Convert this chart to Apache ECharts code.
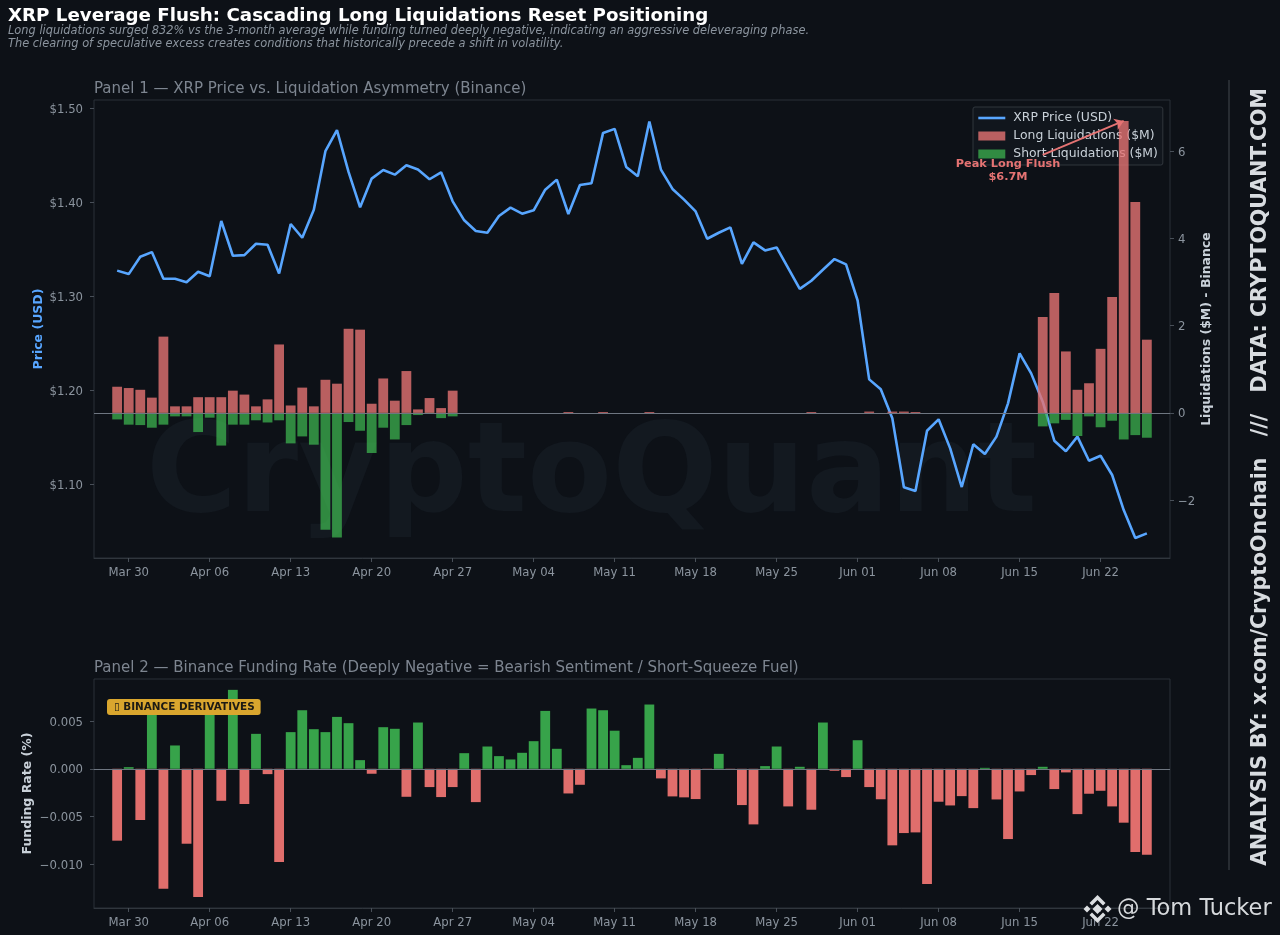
<!DOCTYPE html>
<html><head><meta charset="utf-8">
<style>html,body{margin:0;padding:0;background:#0d1117}#c{width:1280px;height:935px}</style>
<script src="https://cdn.jsdelivr.net/npm/echarts@6/dist/echarts.min.js"></script>
</head><body><div id="c"></div>
<script>
const categories = ['Mar 27','Mar 28','Mar 29','Mar 30','Mar 31',
'Apr 01','Apr 02','Apr 03','Apr 04','Apr 05','Apr 06','Apr 07','Apr 08','Apr 09','Apr 10','Apr 11','Apr 12','Apr 13','Apr 14','Apr 15','Apr 16','Apr 17','Apr 18','Apr 19','Apr 20','Apr 21','Apr 22','Apr 23','Apr 24','Apr 25','Apr 26','Apr 27','Apr 28','Apr 29','Apr 30',
'May 01','May 02','May 03','May 04','May 05','May 06','May 07','May 08','May 09','May 10','May 11','May 12','May 13','May 14','May 15','May 16','May 17','May 18','May 19','May 20','May 21','May 22','May 23','May 24','May 25','May 26','May 27','May 28','May 29','May 30','May 31',
'Jun 01','Jun 02','Jun 03','Jun 04','Jun 05','Jun 06','Jun 07','Jun 08','Jun 09','Jun 10','Jun 11','Jun 12','Jun 13','Jun 14','Jun 15','Jun 16','Jun 17','Jun 18','Jun 19','Jun 20','Jun 21','Jun 22','Jun 23','Jun 24','Jun 25','Jun 26','Jun 27','Jun 28'];
const tickLabels = ['Mar 30','Apr 06','Apr 13','Apr 20','Apr 27','May 04','May 11','May 18','May 25','Jun 01','Jun 08','Jun 15','Jun 22'];
const priceTicks = [1.1,1.2,1.3,1.4,1.5];
const liqTicks = [-2,0,2,4,6];
const fundingTicks = [-0.01,-0.005,0,0.005];

const price = [1.327,1.3233,1.3417,1.3467,1.3183,1.3183,1.3147,1.3258,1.3211,1.3798,1.3428,1.3435,1.3556,1.3545,1.324,1.3766,1.362,1.3918,1.454,1.4764,1.432,1.3943,1.4249,1.4341,1.4291,1.4391,1.4345,1.4242,1.4316,1.4007,1.3805,1.3691,1.3673,1.3851,1.394,1.3876,1.3911,1.4131,1.4238,1.3872,1.4181,1.4199,1.4735,1.4778,1.4373,1.4274,1.4856,1.4345,1.4139,1.4025,1.39,1.3609,1.3673,1.373,1.3343,1.357,1.3485,1.3517,1.3297,1.3076,1.3162,1.3279,1.3393,1.3336,1.2952,1.2113,1.2007,1.1699,1.0965,1.0926,1.1567,1.1688,1.1379,1.0968,1.1422,1.1319,1.1504,1.1858,1.239,1.2177,1.1876,1.1461,1.1348,1.1504,1.1248,1.1301,1.1096,1.0723,1.0426,1.0475];
const longLiq = [0.60,0.57,0.53,0.35,1.75,0.15,0.15,0.36,0.36,0.36,0.51,0.42,0.15,0.31,1.57,0.17,0.58,0.15,0.76,0.67,1.93,1.91,0.21,0.79,0.28,0.96,0.08,0.34,0.11,0.51,
0,0,0,0,0,0,0,0,0,0.02,0,0,0.02,0,0,0,0.02,0,0,0,0,0,0,0,0,0,0,0,0,0,0.02,0,0,0,0,0.03,0,0.03,0.03,0.02,0,0,0,0,0,0,0,0,0,0,
2.20,2.75,1.41,0.53,0.68,1.47,2.66,6.70,4.84,1.68];
const shortLiq = [-0.15,-0.27,-0.28,-0.34,-0.27,-0.08,-0.08,-0.44,-0.11,-0.75,-0.27,-0.27,-0.17,-0.22,-0.17,-0.70,-0.54,-0.73,-2.68,-2.86,-0.21,-0.41,-0.92,-0.34,-0.61,-0.28,-0.05,-0.01,-0.12,-0.08,
0,0,0,0,0,0,0,0,0,0,0,0,0,0,0,0,0,0,0,0,0,0,0,0,0,0,0,0,0,0,0,0,0,0,0,0,0,0,0,0,0,0,0,0,0,0,0,0,0,0,
-0.31,-0.24,-0.16,-0.53,-0.08,-0.33,-0.18,-0.61,-0.51,-0.57];
const funding = [-7.55,0.17,-5.38,6.6,-12.6,2.45,-7.87,-13.46,6.2,-3.36,8.29,-3.7,3.67,-0.56,-9.79,3.85,6.15,4.16,3.85,5.45,4.79,0.91,-0.52,4.37,4.2,-2.94,4.86,-1.92,-2.97,-1.92,1.64,-3.5,2.34,1.33,0.98,1.68,2.9,6.08,2.1,-2.59,-1.68,6.33,6.15,4.0,0.38,1.15,6.75,-1.01,-2.9,-3.0,-3.18,-0.1,1.57,-0.1,-3.81,-5.84,0.28,2.34,-3.95,0.21,-4.3,4.86,-0.21,-0.87,3.0,-1.92,-3.2,-8.04,-6.75,-6.68,-12.1,-3.46,-3.85,-2.87,-4.13,0.1,-3.22,-7.38,-2.38,-0.66,0.21,-2.13,-0.38,-4.76,-2.62,-2.31,-3.95,-5.66,-8.74,-9.02];

const FONT = '"DejaVu Sans"';
const pad = a => [null, null, ...a, null, null];
const isTick = (i, v) => tickLabels.includes(v);
const minus = s => String(s).replace('-', '\u2212');
const axisC = '#30363d', txtC = '#8b949e', LBL = 11.7, NAME = 12.5;
const tickRich = {t: {color: txtC, fontSize: LBL, fontFamily: FONT, padding: [3, 0, 0, 0]}};

const xAxisBase = g => ({
  type: 'category', gridIndex: g, data: categories, boundaryGap: false,
  axisLine: {onZero: false, lineStyle: {color: axisC}},
  axisTick: {show: true, interval: isTick, length: 4, lineStyle: {color: '#484f58'}},
  axisLabel: {interval: isTick, color: txtC, fontSize: LBL, fontFamily: FONT, margin: 9},
  splitLine: {show: false}
});
const yTickStyle = {show: true, length: 4, lineStyle: {color: '#484f58'}};

const chart = echarts.init(document.getElementById('c'), null, {renderer: 'canvas'});
chart.setOption({
  backgroundColor: '#0d1117',
  animation: false,
  title: [
    {text: 'XRP Leverage Flush: Cascading Long Liquidations Reset Positioning', left: 8, top: 7, padding: 0,
     textStyle: {color: '#ffffff', fontSize: 18.25, fontWeight: 'bold', fontFamily: FONT}},
    {text: 'Long liquidations surged 832% vs the 3-month average while funding turned deeply negative, indicating an aggressive deleveraging phase.\nThe clearing of speculative excess creates conditions that historically precede a shift in volatility.',
     left: 8, top: 25, padding: 0,
     textStyle: {color: '#8b949e', fontSize: 11.4, fontStyle: 'italic', fontWeight: 'normal', fontFamily: FONT, lineHeight: 13}},
    {text: 'Panel 1 \u2014 XRP Price vs. Liquidation Asymmetry (Binance)', left: 94, top: 82, padding: 0,
     textStyle: {color: '#7d8590', fontSize: 15, fontWeight: 'normal', fontFamily: FONT}},
    {text: 'Panel 2 \u2014 Binance Funding Rate (Deeply Negative = Bearish Sentiment / Short-Squeeze Fuel)', left: 94, top: 661, padding: 0,
     textStyle: {color: '#7d8590', fontSize: 15, fontWeight: 'normal', fontFamily: FONT}}
  ],
  legend: {
    z: 2, orient: 'vertical', left: 973, top: 107, padding: [5, 5, 5, 4], itemGap: 6, itemWidth: 27, itemHeight: 9,
    backgroundColor: 'rgba(22,27,34,0.55)', borderColor: '#30363d', borderWidth: 1, borderRadius: 2,
    textStyle: {color: '#c9d1d9', fontSize: 12.4, fontFamily: FONT, padding: [0, 0, 0, 3]},
    data: [
      {name: 'XRP Price (USD)', itemStyle: {color: 'rgba(0,0,0,0)'}, lineStyle: {width: 2.6, color: '#58a6ff'}},
      {name: 'Long Liquidations ($M)', icon: 'rect'},
      {name: 'Short Liquidations ($M)', icon: 'rect'}
    ]
  },
  grid: [
    {left: 94, top: 100, width: 1076, height: 458, show: true, borderColor: '#2a3038', borderWidth: 1, backgroundColor: 'transparent'},
    {left: 94, top: 679, width: 1076, height: 229, show: true, borderColor: '#2a3038', borderWidth: 1, backgroundColor: 'transparent'}
  ],
  xAxis: [xAxisBase(0), xAxisBase(1)],
  yAxis: [
    {type: 'value', gridIndex: 0, min: 1.0213, max: 1.5085, position: 'left', name: 'Price (USD)', nameLocation: 'middle', nameGap: 49, nameMoveOverlap: false,
     nameTextStyle: {color: '#58a6ff', fontSize: NAME, fontWeight: 'bold', fontFamily: FONT},
     axisLine: {show: false}, axisTick: {...yTickStyle, customValues: priceTicks}, splitLine: {show: false},
     axisLabel: {customValues: priceTicks, margin: 11, rich: tickRich, formatter: v => '{t|$' + v.toFixed(2) + '}'}},
    {type: 'value', gridIndex: 0, min: -3.33, max: 7.18, position: 'right', name: 'Liquidations ($M) - Binance', nameLocation: 'middle', nameGap: 30, nameMoveOverlap: false,
     nameTextStyle: {color: '#c9d1d9', fontSize: NAME, fontWeight: 'bold', fontFamily: FONT},
     axisLine: {show: false}, axisTick: {...yTickStyle, customValues: liqTicks}, splitLine: {show: false},
     axisLabel: {customValues: liqTicks, rich: tickRich, formatter: v => '{t|' + minus(v) + '}'}},
    {type: 'value', gridIndex: 1, min: -0.01462, max: 0.00943, position: 'left', name: 'Funding Rate (%)', nameLocation: 'middle', nameGap: 60, nameMoveOverlap: false,
     nameTextStyle: {color: '#c9d1d9', fontSize: NAME, fontWeight: 'bold', fontFamily: FONT},
     axisLine: {show: false}, axisTick: {...yTickStyle, customValues: fundingTicks}, splitLine: {show: false},
     axisLabel: {customValues: fundingTicks, margin: 11, rich: tickRich, formatter: v => '{t|' + minus(v.toFixed(3)) + '}'}}
  ],
  series: [
    {name: 'XRP Price (USD)', type: 'line', xAxisIndex: 0, yAxisIndex: 0, z: 2, data: pad(price), showSymbol: false, symbol: 'none',
     connectNulls: false, lineStyle: {color: '#58a6ff', width: 2.6}, itemStyle: {color: '#58a6ff'}},
    {name: 'Long Liquidations ($M)', type: 'bar', xAxisIndex: 0, yAxisIndex: 1, z: 3, data: pad(longLiq), barWidth: 9.8, barGap: '-100%',
     itemStyle: {color: 'rgba(229,115,115,0.8)'},
     markLine: {silent: true, symbol: 'none', label: {show: false}, animation: false,
       lineStyle: {color: '#6e7681', width: 1, type: 'solid'}, data: [{yAxis: 0}]}},
    {name: 'Short Liquidations ($M)', type: 'bar', xAxisIndex: 0, yAxisIndex: 1, z: 3, data: pad(shortLiq), barWidth: 9.8, barGap: '-100%',
     itemStyle: {color: 'rgba(63,185,80,0.72)'},
     markLine: {silent: true, label: {show: false}, animation: false, symbol: ['none', 'arrow'], symbolSize: 9,
       lineStyle: {color: '#e57373', width: 1.8, type: 'solid'},
       data: [[{coord: ['Jun 17', 5.92]}, {coord: ['Jun 24', 6.7]}]]}},
    {name: 'Funding', type: 'bar', xAxisIndex: 1, yAxisIndex: 2, z: 3, barWidth: 9.8,
     data: pad(funding).map(v => v === null ? null : v / 1000),
     itemStyle: {color: p => p.value >= 0 ? '#37a34a' : '#e06e6c'},
     markLine: {silent: true, symbol: 'none', label: {show: false}, animation: false,
       lineStyle: {color: '#6e7681', width: 1, type: 'solid'}, data: [{yAxis: 0}]}}
  ],
  graphic: [
    {type: 'text', z: 1, left: 146, top: 417, silent: true,
     style: {text: 'CryptoQuant', fill: '#131920', font: 'bold 124px ' + FONT}},
    {type: 'text', z: 20, left: 107, top: 699, silent: true,
     style: {text: '\u25AF BINANCE DERIVATIVES', fill: '#1c1a14', font: 'bold 10.4px ' + FONT,
       backgroundColor: '#d9a62e', padding: [3, 6, 3, 7], borderRadius: 3}},
    {type: 'text', z: 20, x: 1008, y: 171, silent: true,
     style: {text: 'Peak Long Flush\n$6.7M', fill: '#e57373', font: 'bold 11.3px ' + FONT, align: 'center', verticalAlign: 'middle', lineHeight: 13}},
    {type: 'line', z: 5, silent: true, shape: {x1: 1229, y1: 80, x2: 1229, y2: 870}, style: {stroke: '#30363d', lineWidth: 1.5}},
    {type: 'text', z: 5, x: 1261, y: 477, rotation: Math.PI / 2, silent: true,
     style: {text: 'ANALYSIS BY: x.com/CryptoOnchain   ///   DATA: CRYPTOQUANT.COM', fill: '#d8dce0', font: 'bold 20.5px ' + FONT, align: 'center', verticalAlign: 'middle'}},
    {type: 'polygon', z: 30, silent: true, shape: {points: [[1097.5,904],[1102.5,909],[1097.5,914],[1092.5,909]]}, style: {fill: '#dcdfe2'}},
    {type: 'polygon', z: 30, silent: true, shape: {points: [[1087,905.5],[1090.5,909],[1087,912.5],[1083.5,909]]}, style: {fill: '#dcdfe2'}},
    {type: 'polygon', z: 30, silent: true, shape: {points: [[1108,905.5],[1111.5,909],[1108,912.5],[1104.5,909]]}, style: {fill: '#dcdfe2'}},
    {type: 'polygon', z: 30, silent: true, shape: {points: [[1097.5,895],[1105.5,903],[1103,905.5],[1097.5,900],[1092,905.5],[1089.5,903]]}, style: {fill: '#dcdfe2'}},
    {type: 'polygon', z: 30, silent: true, shape: {points: [[1097.5,923],[1105.5,915],[1103,912.5],[1097.5,918],[1092,912.5],[1089.5,915]]}, style: {fill: '#dcdfe2'}},
    {type: 'text', z: 30, x: 1117, y: 909, silent: true,
     style: {text: '@ Tom Tucker', fill: '#d6d9dc', font: '22.5px ' + FONT, align: 'left', verticalAlign: 'middle'}}
  ]
});
</script></body></html>
